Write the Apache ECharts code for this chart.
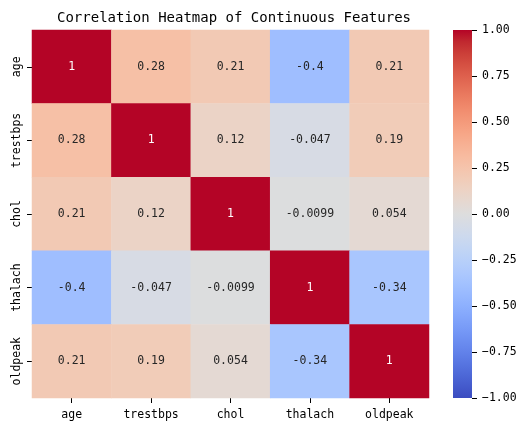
<!DOCTYPE html>
<html>
<head>
<meta charset="utf-8">
<script src="https://cdn.jsdelivr.net/npm/echarts@6/dist/echarts.min.js"></script>
<style>
html,body{margin:0;padding:0;background:#fff;}
#chart{width:526px;height:431px;}
</style>
</head>
<body>
<div id="chart"></div>
<script>
var features = ['age', 'trestbps', 'chol', 'thalach', 'oldpeak'];
var rowAge      = [1, 0.28, 0.21, -0.4, 0.21];
var rowTrestbps = [0.28, 1, 0.12, -0.047, 0.19];
var rowChol     = [0.21, 0.12, 1, -0.0099, 0.054];
var rowThalach  = [-0.4, -0.047, -0.0099, 1, -0.34];
var rowOldpeak  = [0.21, 0.19, 0.054, -0.34, 1];
var matrix = [rowAge, rowTrestbps, rowChol, rowThalach, rowOldpeak];
var cbarMin = -1, cbarMax = 1, cbarStep = 0.25;

// matplotlib "coolwarm" colour stops (low -> high)
var coolwarmRGB = [
 [59,76,192],[68,90,204],[77,104,215],[87,117,225],[98,130,234],[108,142,241],
 [119,154,247],[130,165,251],[141,176,254],[152,185,255],[163,194,255],[174,201,253],
 [184,208,249],[194,213,244],[204,217,238],[213,219,230],[221,221,221],[229,216,209],
 [236,211,197],[241,204,184],[245,196,172],[247,187,160],[247,177,148],[247,166,135],
 [244,154,123],[241,141,111],[236,127,99],[229,112,88],[222,96,77],[213,80,66],
 [203,62,56],[192,40,47],[180,4,38]
];
var coolwarm = coolwarmRGB.map(function(c){return 'rgb(' + c.join(',') + ')';});

var FONT = '"DejaVu Sans Mono", monospace';

var data = [];
matrix.forEach(function(row, r){
  row.forEach(function(v, c){
    data.push({
      value: [c, r, v],
      label: {color: v > 0.8 ? '#ffffff' : '#262626'}
    });
  });
});

function fmt2g(v){ return String(Number(v.toPrecision(2))); }

// gradients for the two halves of the colour bar (offset 0 = top of bar)
var n = coolwarm.length, mid = (n - 1) / 2;
var upperStops = [], lowerStops = [];
for (var i = mid; i < n; i++) upperStops.push({offset: 1 - (i - mid) / mid, color: coolwarm[i]});
for (var j = 0; j <= mid; j++) lowerStops.push({offset: 1 - j / mid, color: coolwarm[j]});
upperStops.reverse(); lowerStops.reverse();

var chart = echarts.init(document.getElementById('chart'));
chart.setOption({
  animation: false,
  backgroundColor: '#ffffff',
  title: {
    text: 'Correlation Heatmap of Continuous Features',
    left: 229, textAlign: 'center', top: 6,
    textStyle: {fontFamily: FONT, fontSize: 14, fontWeight: 'normal', color: '#000'}
  },
  grid: [
    {left: 32, top: 30, width: 397, height: 368},
    {left: 453, top: 30, width: 19, height: 368}
  ],
  xAxis: [
    {type: 'category', data: features, gridIndex: 0,
     axisLine: {show: false},
     axisTick: {show: true, alignWithLabel: true, length: 5, lineStyle: {color: '#000'}},
     axisLabel: {fontFamily: FONT, fontSize: 11.5, color: '#000', margin: 11},
     splitLine: {show: false}},
    {type: 'category', gridIndex: 1, show: false, data: ['cbar']}
  ],
  yAxis: [
    {type: 'category', data: features, inverse: true, gridIndex: 0,
     axisLine: {show: false},
     axisTick: {show: true, alignWithLabel: true, length: 5, lineStyle: {color: '#000'}},
     axisLabel: {fontFamily: FONT, fontSize: 11.5, color: '#000', rotate: 90, margin: 9},
     splitLine: {show: false}},
    {type: 'value', gridIndex: 1, position: 'right', min: cbarMin, max: cbarMax, interval: cbarStep,
     axisLine: {show: false},
     axisTick: {show: true, length: 5, lineStyle: {color: '#000'}},
     axisLabel: {fontFamily: FONT, fontSize: 11.5, color: '#000', margin: 10,
       formatter: function(v){ return v.toFixed(2).replace('-', '\u2212'); }},
     splitLine: {show: false}}
  ],
  visualMap: {
    type: 'continuous', min: cbarMin, max: cbarMax, seriesIndex: 0, show: false,
    inRange: {color: coolwarm}
  },
  series: [{
    type: 'heatmap', xAxisIndex: 0, yAxisIndex: 0,
    data: data,
    label: {show: true, fontFamily: FONT, fontSize: 11.5,
      formatter: function(p){ return fmt2g(p.value[2]); }},
    itemStyle: {borderWidth: 0},
    emphasis: {disabled: true}
  }, {
    type: 'bar', xAxisIndex: 1, yAxisIndex: 1, stack: 'cbar',
    barWidth: '100%', silent: true,
    data: [cbarMax],
    itemStyle: {color: {type: 'linear', x: 0, y: 0, x2: 0, y2: 1, colorStops: upperStops}}
  }, {
    type: 'bar', xAxisIndex: 1, yAxisIndex: 1, stack: 'cbar',
    barWidth: '100%', silent: true,
    data: [cbarMin],
    itemStyle: {color: {type: 'linear', x: 0, y: 0, x2: 0, y2: 1, colorStops: lowerStops}}
  }]
});
</script>
</body>
</html>
